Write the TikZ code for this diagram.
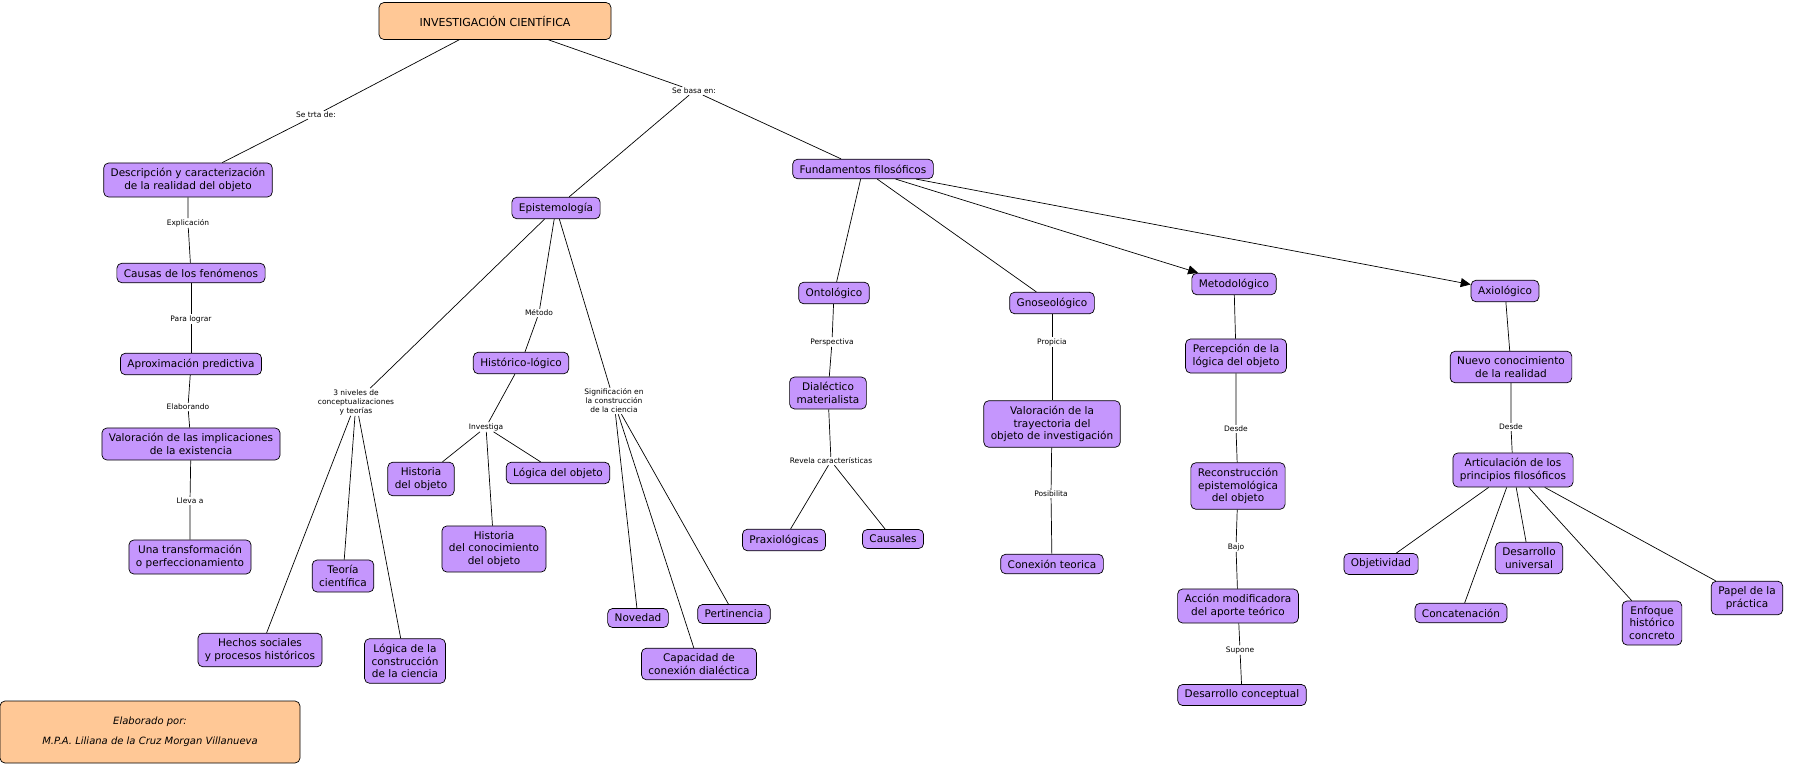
\documentclass[tikz,border=0pt]{standalone}
\usepackage{fontspec}
\setmainfont{DejaVu Sans}
\usetikzlibrary{arrows.meta}
\definecolor{pur}{HTML}{C596FD}
\definecolor{org}{HTML}{FFC896}
\begin{document}
\begin{tikzpicture}[x=1pt,y=-1pt,
 c/.style={draw=black,fill=pur,rounded corners=5pt,align=center,font=\fontsize{10.5}{12.5}\selectfont,inner xsep=7pt,inner ysep=5.5pt,line width=0.7pt},
 o/.style={c,fill=org},
 l/.style={align=center,font=\fontsize{7.5}{9}\selectfont,inner sep=1pt,fill=white},
 e/.style={draw,line width=0.7pt},
 a/.style={e,-{Triangle[length=10pt,width=9pt]}}]
\useasboundingbox (0,0) rectangle (1793,766);
\node[o,minimum width=232,minimum height=37,font=\fontsize{11}{13}\selectfont] (inv) at (495,21) {INVESTIGACIÓN CIENTÍFICA};
\node[c] (des) at (188,180) {Descripción y caracterización\\de la realidad del objeto};
\node[c] (cau) at (191,273) {Causas de los fenómenos};
\node[c] (apr) at (191,364) {Aproximación predictiva};
\node[c] (val) at (191,444) {Valoración de las implicaciones\\de la existencia};
\node[c] (una) at (190,557) {Una transformación\\o perfeccionamiento};
\node[c] (epi) at (556,208) {Epistemología};
\node[c] (fun) at (863,169) {Fundamentos filosóficos};
\node[c] (his) at (521,363) {Histórico-lógico};
\node[c] (hob) at (421,479) {Historia\\del objeto};
\node[c] (lob) at (558,473) {Lógica del objeto};
\node[c] (hco) at (494,549) {Historia\\del conocimiento\\del objeto};
\node[c] (teo) at (343,576) {Teoría\\científica};
\node[c] (hec) at (260,650) {Hechos sociales\\y procesos históricos};
\node[c] (lco) at (405,661) {Lógica de la\\construcción\\de la ciencia};
\node[c] (nov) at (638,618) {Novedad};
\node[c] (per) at (734,614) {Pertinencia};
\node[c] (cap) at (699,664) {Capacidad de\\conexión dialéctica};
\node[c] (ont) at (834,293) {Ontológico};
\node[c] (dia) at (828,393) {Dialéctico\\materialista};
\node[c] (pra) at (784,540) {Praxiológicas};
\node[c] (csl) at (893,539) {Causales};
\node[c] (gno) at (1052,303) {Gnoseológico};
\node[c] (vtr) at (1052,424) {Valoración de la\\trayectoria del\\objeto de investigación};
\node[c] (con) at (1052,564) {Conexión teorica};
\node[c] (met) at (1234,284) {Metodológico};
\node[c] (pcp) at (1236,356) {Percepción de la\\lógica del objeto};
\node[c] (rec) at (1238,486) {Reconstrucción\\epistemológica\\del objeto};
\node[c] (acc) at (1238,606) {Acción modificadora\\del aporte teórico};
\node[c] (dco) at (1242,695) {Desarrollo conceptual};
\node[c] (axi) at (1505,291) {Axiológico};
\node[c] (nue) at (1511,367) {Nuevo conocimiento\\de la realidad};
\node[c] (art) at (1513,470) {Articulación de los\\principios filosóficos};
\node[c] (obj) at (1381,564) {Objetividad};
\node[c] (cat) at (1461,613) {Concatenación};
\node[c] (dun) at (1529,558) {Desarrollo\\universal};
\node[c] (enf) at (1652,623) {Enfoque\\histórico\\concreto};
\node[c] (pap) at (1747,598) {Papel de la\\práctica};
\node[o,minimum width=300,minimum height=62,font=\fontsize{10}{20}\selectfont\itshape] (ela) at (150,732) {Elaborado por:\\M.P.A. Liliana de la Cruz Morgan Villanueva};
% labels
\node[l] (l1) at (316,115) {Se trta de:};
\node[l] (l2) at (694,91) {Se basa en:};
\node[l] (l3) at (188,223) {Explicación};
\node[l] (l4) at (191,319) {Para lograr};
\node[l] (l5) at (188,407) {Elaborando};
\node[l] (l6) at (190,501) {Lleva a};
\node[l] (l7) at (539,313) {Método};
\node[l] (l8) at (356,402) {3 niveles de\\conceptualizaciones\\y teorías};
\node[l] (l9) at (486,427) {Investiga};
\node[l] (l10) at (614,401) {Significación en\\la construcción\\de la ciencia};
\node[l] (l11) at (832,342) {Perspectiva};
\node[l] (l12) at (831,461) {Revela características};
\node[l] (l13) at (1052,342) {Propicia};
\node[l] (l14) at (1051,494) {Posibilita};
\node[l] (l15) at (1236,429) {Desde};
\node[l] (l16) at (1236,547) {Bajo};
\node[l] (l17) at (1240,650) {Supone};
\node[l] (l18) at (1511,427) {Desde};
% edges
\draw[e] (inv) -- (l1) -- (des);
\draw[e] (inv) -- (l2);
\draw[e] (l2) -- (epi);
\draw[e] (l2) -- (fun);
\draw[e] (des) -- (l3) -- (cau);
\draw[e] (cau) -- (l4) -- (apr);
\draw[e] (apr) -- (l5) -- (val);
\draw[e] (val) -- (l6) -- (una);
\draw[e] (epi) -- (l7) -- (his);
\draw[e] (epi) -- (l8);
\draw[e] (epi) -- (l10);
\draw[e] (l8) -- (hec); \draw[e] (l8) -- (teo); \draw[e] (l8) -- (lco);
\draw[e] (his) -- (l9);
\draw[e] (l9) -- (hob); \draw[e] (l9) -- (lob); \draw[e] (l9) -- (hco);
\draw[e] (l10) -- (nov); \draw[e] (l10) -- (cap); \draw[e] (l10) -- (per);
\draw[e] (fun) -- (ont);
\draw[e] (fun) -- (gno);
\draw[a] (fun) -- (met);
\draw[a] (fun) -- (axi);
\draw[e] (ont) -- (l11) -- (dia);
\draw[e] (dia) -- (l12);
\draw[e] (l12) -- (pra); \draw[e] (l12) -- (csl);
\draw[e] (gno) -- (l13) -- (vtr);
\draw[e] (vtr) -- (l14) -- (con);
\draw[e] (met) -- (pcp);
\draw[e] (pcp) -- (l15) -- (rec);
\draw[e] (rec) -- (l16) -- (acc);
\draw[e] (acc) -- (l17) -- (dco);
\draw[e] (axi) -- (nue);
\draw[e] (nue) -- (l18) -- (art);
\draw[e] (art) -- (obj); \draw[e] (art) -- (cat); \draw[e] (art) -- (dun);
\draw[e] (art) -- (enf); \draw[e] (art) -- (pap);
\end{tikzpicture}
\end{document}
